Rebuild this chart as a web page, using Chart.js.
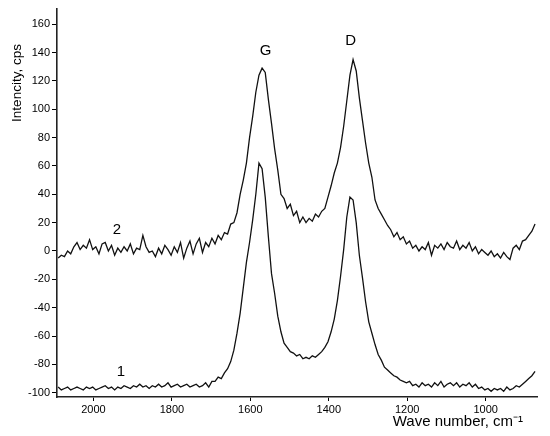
<!DOCTYPE html>
<html>
<head>
<meta charset="utf-8">
<script src="https://cdn.jsdelivr.net/npm/chart.js@4.4.1/dist/chart.umd.min.js"></script>
<style>
    body { margin: 0; background: #fff; }
    canvas { display: block; }
</style>
</head>
<body>
<canvas id="raman" width="550" height="436"></canvas>
<script>
// wave numbers, cm-1 (8 cm-1 step)
var waveNumbers = [
    2090, 2082, 2074, 2066, 2058, 2050, 2042, 2034, 2026, 2018,
    2010, 2002, 1994, 1986, 1978, 1970, 1962, 1954, 1946, 1938,
    1930, 1922, 1914, 1906, 1898, 1890, 1882, 1874, 1866, 1858,
    1850, 1842, 1834, 1826, 1818, 1810, 1802, 1794, 1786, 1778,
    1770, 1762, 1754, 1746, 1738, 1730, 1722, 1714, 1706, 1698,
    1690, 1682, 1674, 1666, 1658, 1650, 1642, 1634, 1626, 1618,
    1610, 1602, 1594, 1586, 1578, 1570, 1562, 1554, 1546, 1538,
    1530, 1522, 1514, 1506, 1498, 1490, 1482, 1474, 1466, 1458,
    1450, 1442, 1434, 1426, 1418, 1410, 1402, 1394, 1386, 1378,
    1370, 1362, 1354, 1346, 1338, 1330, 1322, 1314, 1306, 1298,
    1290, 1282, 1274, 1266, 1258, 1250, 1242, 1234, 1226, 1218,
    1210, 1202, 1194, 1186, 1178, 1170, 1162, 1154, 1146, 1138,
    1130, 1122, 1114, 1106, 1098, 1090, 1082, 1074, 1066, 1058,
    1050, 1042, 1034, 1026, 1018, 1010, 1002, 994, 986, 978,
    970, 962, 954, 946, 938, 930, 922, 914, 906, 898,
    890, 882, 874
];

// curve 2 (upper)
var curve2 = [
    -5, -3, -4, 0, -2, 3, 6, 1, 4, 2,
    8, 1, 3, -2, 5, 6, 0, 4, -3, 2,
    -1, 3, 0, 5, -2, 2, 1, 11, 3, -1,
    0, -4, 2, -2, 4, 1, -3, 3, -1, 6,
    -5, 2, 7, -2, 5, 9, -1, 6, 3, 9,
    5, 11, 8, 13, 12, 19, 20, 27, 40, 50,
    62, 80, 95, 112, 124, 129, 126, 107, 90, 72,
    57, 40, 37, 30, 33, 25, 28, 20, 24, 20,
    23, 21, 26, 24, 28, 30, 38, 46, 55, 62,
    73, 88, 106, 124, 135, 127, 108, 92, 76, 62,
    52, 36, 30, 26, 22, 18, 15, 10, 13, 8,
    10, 5, 7, 2, 4, 0, 3, 1, 6, -3,
    4, 2, 5, 1, 6, 3, 2, 7, 1, 4,
    2, 6, 0, 3, -2, 1, -1, -3, 0, -4,
    -2, -5, -1, -4, -6, 2, 4, 1, 7, 8,
    11, 14, 19
];

// curve 1 (lower)
var curve1 = [
    -96, -98, -97, -96, -98, -97, -96, -97, -98, -96,
    -97, -96, -98, -97, -96, -95, -97, -96, -98, -96,
    -97, -95, -96, -97, -95, -96, -94, -96, -95, -97,
    -95, -96, -94, -96, -95, -93, -96, -95, -94, -96,
    -95, -94, -96, -95, -94, -96, -95, -93, -96, -92,
    -92, -89, -90, -86, -83, -78, -70, -58, -44, -26,
    -8, 6, 22, 40, 62, 58, 38, 10, -16, -30,
    -46, -57, -65, -68, -71, -72, -74, -73, -76, -75,
    -76, -74, -75, -73, -71, -68, -64, -57, -48, -35,
    -18, 1, 24, 38, 36, 20, -3, -19, -36, -50,
    -58, -66, -73, -77, -82, -84, -86, -88, -89, -91,
    -92, -93, -92, -95, -94, -96, -93, -95, -94, -96,
    -93, -95, -92, -96, -94, -93, -95, -93, -96, -94,
    -95, -93, -96, -94, -97, -96, -98, -97, -99, -97,
    -98, -97, -99, -96, -98, -97, -95, -96, -94, -92,
    -90, -88, -85
];

var xTicks = [2000, 1800, 1600, 1400, 1200, 1000];
var yTicks = [-100, -80, -60, -40, -20, 0, 20, 40, 60, 80, 100, 120, 140, 160];

// curve labels, in data units
var marks = [
    { text: 'G', x: 1561, y: 141 },
    { text: 'D', x: 1344, y: 148 },
    { text: '2', x: 1940, y: 15 },
    { text: '1', x: 1930, y: -85 }
];

Chart.defaults.font.family = '"Liberation Sans", Arial, sans-serif';
Chart.defaults.color = '#000';

function toPoints(ys) {
    return ys.map(function (y, i) { return { x: waveNumbers[i], y: y }; });
}

var textPlugin = {
    id: 'texts',
    afterDraw: function (chart) {
        var ctx = chart.ctx;
        var sx = chart.scales.x, sy = chart.scales.y;
        ctx.save();
        ctx.fillStyle = '#000';
        ctx.textAlign = 'center';
        ctx.textBaseline = 'middle';
        ctx.font = '15px "Liberation Sans", Arial, sans-serif';
        marks.forEach(function (m) {
            ctx.fillText(m.text, sx.getPixelForValue(m.x), sy.getPixelForValue(m.y));
        });

        // axis titles
        ctx.font = '15px "Liberation Sans", Arial, sans-serif';
        ctx.textAlign = 'right';
        ctx.fillText('Wave number, cm\u207B\u00B9', 523, 422);

        ctx.translate(17, 83);
        ctx.rotate(-Math.PI / 2);
        ctx.textAlign = 'center';
        ctx.font = '13.5px "Liberation Sans", Arial, sans-serif';
        ctx.fillText('Intencity, cps', 0, 0);
        ctx.restore();
    }
};

var spectrum = {
    type: 'line',
    data: {
        datasets: [{
            label: '2',
            data: toPoints(curve2),
            borderColor: '#111',
            borderWidth: 1.3,
            pointRadius: 0,
            tension: 0
        }, {
            label: '1',
            data: toPoints(curve1),
            borderColor: '#111',
            borderWidth: 1.3,
            pointRadius: 0,
            tension: 0
        }]
    },
    options: {
        responsive: false,
        animation: false,
        devicePixelRatio: 1,
        layout: { padding: { left: 0, right: 13, top: 8, bottom: 0 } },
        plugins: {
            legend: { display: false },
            tooltip: { enabled: false }
        },
        scales: {
            x: {
                type: 'linear',
                reverse: true,
                min: 869,
                max: 2093,
                afterBuildTicks: function (scale) {
                    scale.ticks = xTicks.map(function (v) { return { value: v }; });
                },
                afterFit: function (scale) { scale.height = 39; },
                grid: { drawOnChartArea: false, color: '#000', tickLength: 4 },
                border: { color: '#222', width: 1.6, dash: [2, 1.5] },
                ticks: {
                    font: { size: 11 },
                    padding: 2,
                    maxRotation: 0,
                    callback: function (v) { return String(v); }
                }
            },
            y: {
                min: -103,
                max: 171,
                afterBuildTicks: function (scale) {
                    scale.ticks = yTicks.map(function (v) { return { value: v }; });
                },
                afterFit: function (scale) { scale.width = 57; },
                grid: { drawOnChartArea: false, color: '#000', tickLength: 5 },
                border: { color: '#222', width: 1.6, dash: [2, 1.5] },
                ticks: {
                    font: { size: 11 },
                    padding: 2,
                    callback: function (v) { return String(v); }
                }
            }
        }
    },
    plugins: [textPlugin]
};

window.historico_raman = new Chart(document.getElementById('raman').getContext('2d'), spectrum);
</script>
</body>
</html>
